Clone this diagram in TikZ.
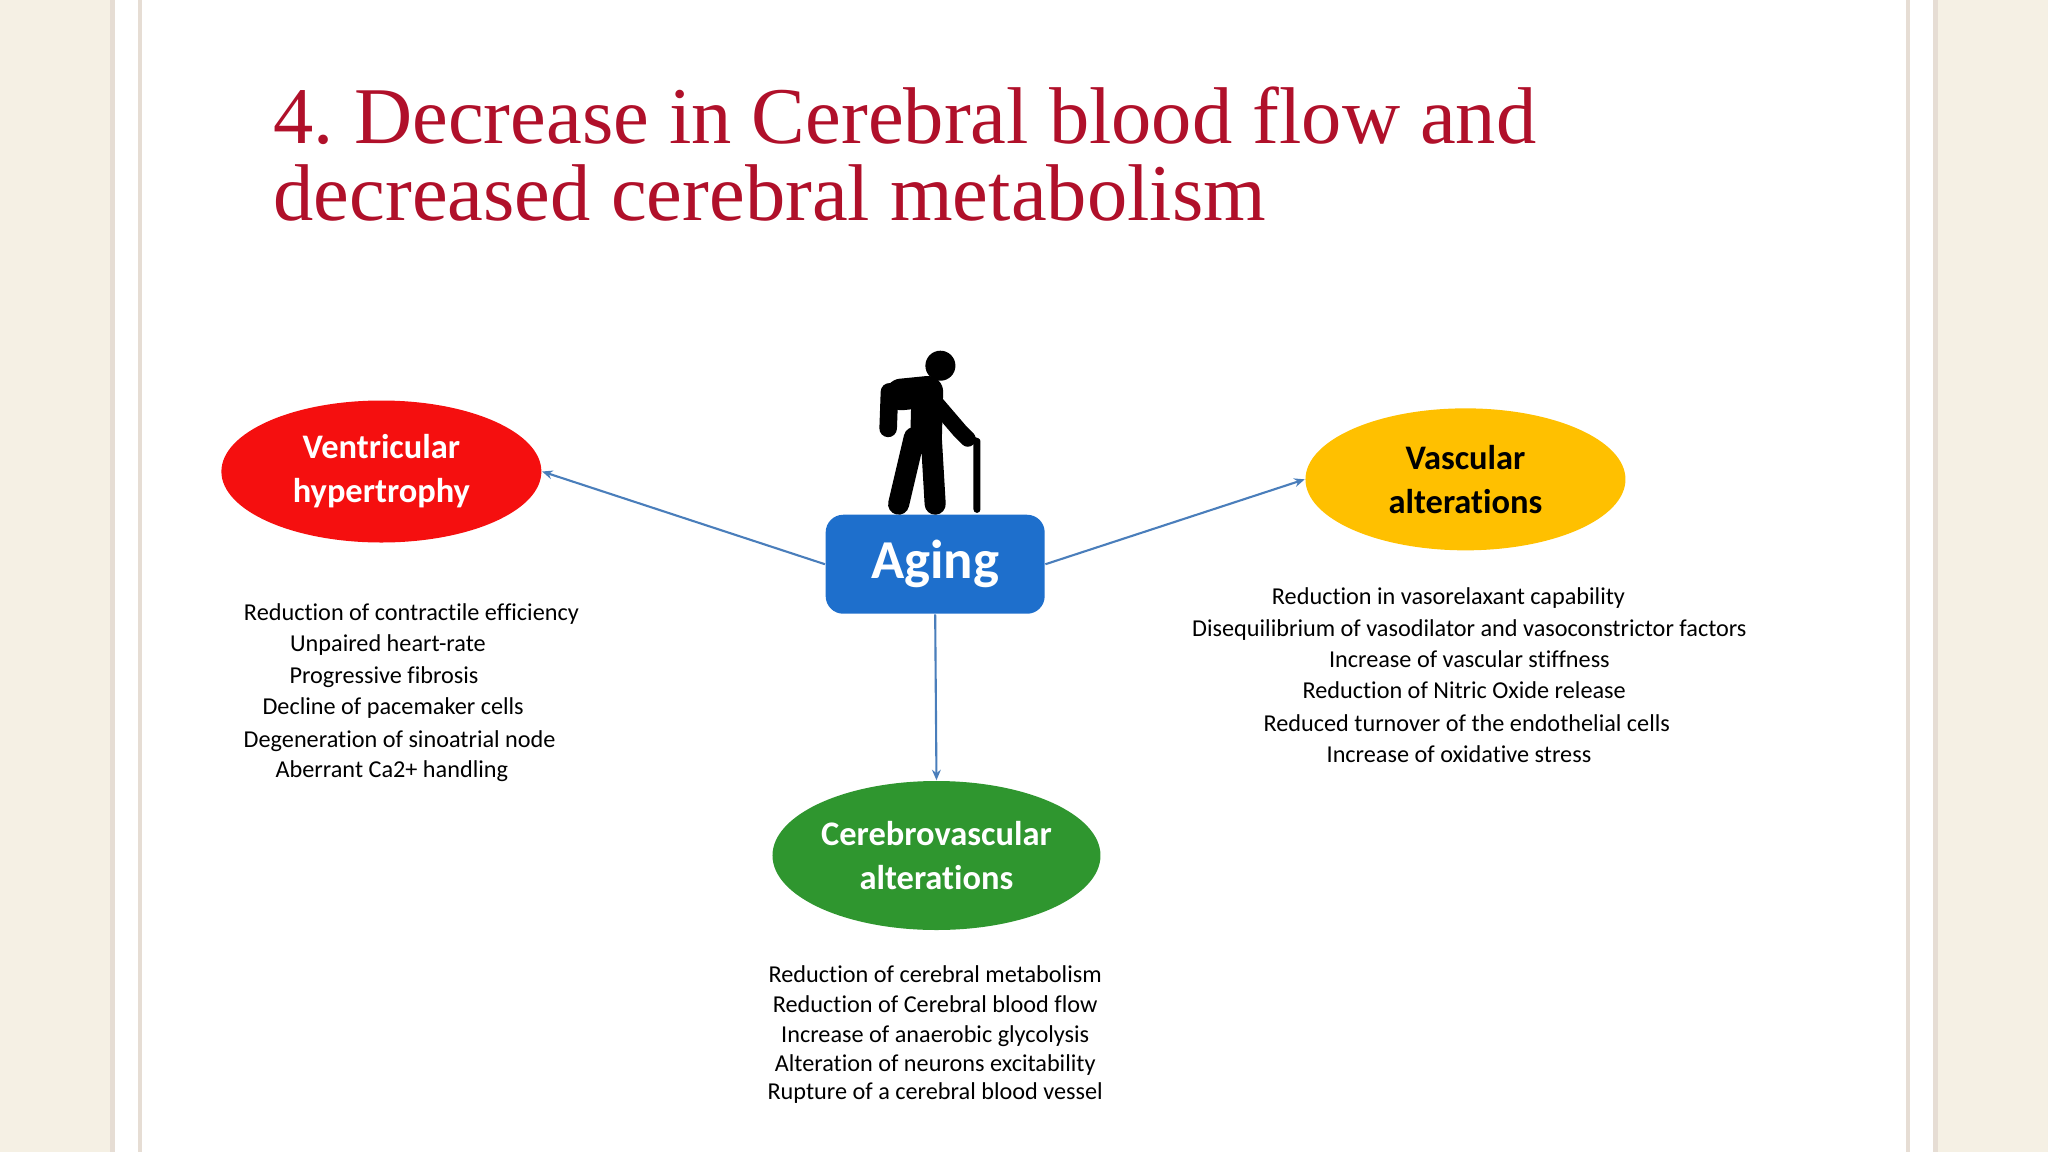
\documentclass[tikz,border=0pt]{standalone}
\usepackage{fontspec}
\setmainfont[Ligatures={NoCommon}]{Carlito}
\newfontfamily\titlefont{Liberation Serif}
\frenchspacing
\definecolor{beige}{HTML}{F5F0E4}
\definecolor{edge}{HTML}{E6DDD4}
\definecolor{ttl}{HTML}{B0102A}
\definecolor{arr}{HTML}{4A7EBB}
\definecolor{vred}{HTML}{F50F0F}
\definecolor{vyel}{HTML}{FFC000}
\definecolor{vgrn}{HTML}{2F962F}
\definecolor{vblu}{HTML}{1E6FCC}
\tikzset{
  oval/.style={ellipse, minimum width=3.2cm, minimum height=1.42cm, text=white, font=\fontsize{9.8}{12.5}\selectfont\bfseries, align=center, inner sep=0pt},
  item/.style={font=\fontsize{6.9}{8}\selectfont, anchor=base, inner sep=0pt},
  link/.style={arr, line width=0.6pt, -{Stealth[length=3pt,width=2.5pt]}},
  body/.style={line cap=round, line join=round, black}
}
\usetikzlibrary{shapes.geometric,arrows.meta}
\begin{document}
\begin{tikzpicture}[x=0.013061cm, y=-0.013061cm]
\useasboundingbox (0,0) rectangle (1568,882);
\fill[beige] (0,0) rectangle (88,882);
\fill[edge] (84,0) rectangle (88,882);
\fill[beige] (1480,0) rectangle (1568,882);
\fill[edge] (1480,0) rectangle (1484,882);
\draw[edge, line width=1pt] (107,0) -- (107,882);
\draw[edge, line width=1pt] (1461,0) -- (1461,882);
% title
\node[anchor=base west, inner sep=0pt, text=ttl, font=\titlefont\fontsize{22.9}{22}\selectfont] (t1) at (209,110) {4. Decrease in Cerebral blood flow and};
\node[anchor=base west, inner sep=0pt, text=ttl, font=\titlefont\fontsize{22.9}{22}\selectfont] (t2) at (209,169) {decreased cerebral metabolism};
% nodes
\node[oval, fill=vred] (vh) at (292,361) {Ventricular\\hypertrophy};
\node[oval, fill=vyel, text=black] (va) at (1122,367) {Vascular\\alterations};
\node[oval, fill=vgrn, minimum width=3.28cm, minimum height=1.49cm] (cv) at (717,655) {Cerebrovascular\\alterations};
\node[fill=vblu, rounded corners=5pt, minimum width=2.19cm, minimum height=0.99cm, text=white, font=\fontsize{15.6}{18}\selectfont\bfseries] (ag) at (716,432) {Aging};
\draw[link] (ag.west) -- (vh.east);
\draw[link] (ag.east) -- (va.west);
\draw[link] (ag.south) -- (cv.north);
% figure
\fill (720,280) circle[radius=11.5];
\draw[body, line width=9pt] (690,302) -- (710,300) -- (709,336);
\draw[body, line width=5pt] (681,300) -- (680,328);
\draw[body, line width=4.5pt] (711,302) -- (735,330) -- (741,336);
\draw[body, line width=6pt] (700,335) -- (688,386);
\draw[body, line width=6pt] (713,335) -- (716,386);
\draw[body, line width=2pt] (742,336) -- (748,338) -- (748,390);
% left list
\node[item] (l1) at (315,475) {Reduction of contractile efficiency};
\node[item] (l2) at (297,499) {Unpaired heart-rate};
\node[item] (l3) at (294,523) {Progressive fibrosis};
\node[item] (l4) at (301,547) {Decline of pacemaker cells};
\node[item] (l5) at (306,572) {Degeneration of sinoatrial node};
\node[item] (l6) at (300,595) {Aberrant Ca2+ handling};
% right list
\node[item] (r1) at (1109,463) {Reduction in vasorelaxant capability};
\node[item] (r2) at (1125,487) {Disequilibrium of vasodilator and vasoconstrictor factors};
\node[item] (r3) at (1125,511) {Increase of vascular stiffness};
\node[item] (r4) at (1121,535) {Reduction of Nitric Oxide release};
\node[item] (r5) at (1123,560) {Reduced turnover of the endothelial cells};
\node[item] (r6) at (1117,584) {Increase of oxidative stress};
% bottom list
\node[item] (b1) at (716,752) {Reduction of cerebral metabolism};
\node[item] (b2) at (716,775) {Reduction of Cerebral blood flow};
\node[item] (b3) at (716,798) {Increase of anaerobic glycolysis};
\node[item] (b4) at (716,820) {Alteration of neurons excitability};
\node[item] (b5) at (716,842) {Rupture of a cerebral blood vessel};
\end{tikzpicture}
\end{document}
